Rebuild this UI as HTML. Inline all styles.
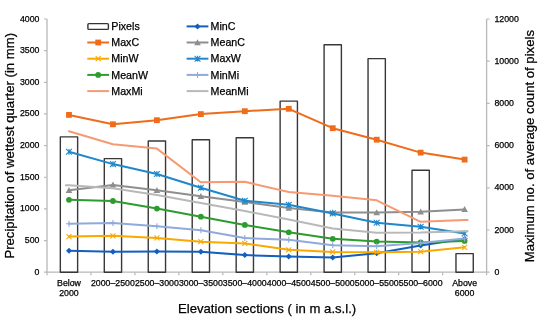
<!DOCTYPE html><html><head><meta charset="utf-8"><style>html,body{margin:0;padding:0;background:#fff;}svg{display:block;}text{font-family:"Liberation Sans",Arial,sans-serif;stroke:#000;stroke-width:0.25px;}</style></head><body>
<svg width="550" height="322" viewBox="0 0 550 322">
<rect width="550" height="322" fill="#fff"/>
<path d="M47.0 19.0V272.2M486.6 19.0V272.2M47.0 272.2H486.6" stroke="#B8B8B8" stroke-width="1.3" fill="none"/>
<path d="M44.0 272.20H47.0M44.0 240.55H47.0M44.0 208.90H47.0M44.0 177.25H47.0M44.0 145.60H47.0M44.0 113.95H47.0M44.0 82.30H47.0M44.0 50.65H47.0M44.0 19.00H47.0M486.6 272.20H489.6M486.6 230.00H489.6M486.6 187.80H489.6M486.6 145.60H489.6M486.6 103.40H489.6M486.6 61.20H489.6M486.6 19.00H489.6M47.00 272.2V275.2M90.96 272.2V275.2M134.92 272.2V275.2M178.88 272.2V275.2M222.84 272.2V275.2M266.80 272.2V275.2M310.76 272.2V275.2M354.72 272.2V275.2M398.68 272.2V275.2M442.64 272.2V275.2M486.60 272.2V275.2" stroke="#B8B8B8" stroke-width="1.2" fill="none"/>
<rect x="60.33" y="136.90" width="17.3" height="135.30" fill="none" stroke="#383838" stroke-width="1.4" stroke-linejoin="round"/>
<rect x="104.29" y="158.60" width="17.3" height="113.60" fill="none" stroke="#383838" stroke-width="1.4" stroke-linejoin="round"/>
<rect x="148.25" y="141.00" width="17.3" height="131.20" fill="none" stroke="#383838" stroke-width="1.4" stroke-linejoin="round"/>
<rect x="192.21" y="139.80" width="17.3" height="132.40" fill="none" stroke="#383838" stroke-width="1.4" stroke-linejoin="round"/>
<rect x="236.17" y="137.80" width="17.3" height="134.40" fill="none" stroke="#383838" stroke-width="1.4" stroke-linejoin="round"/>
<rect x="280.13" y="101.10" width="17.3" height="171.10" fill="none" stroke="#383838" stroke-width="1.4" stroke-linejoin="round"/>
<rect x="324.09" y="44.70" width="17.3" height="227.50" fill="none" stroke="#383838" stroke-width="1.4" stroke-linejoin="round"/>
<rect x="368.05" y="58.60" width="17.3" height="213.60" fill="none" stroke="#383838" stroke-width="1.4" stroke-linejoin="round"/>
<rect x="412.01" y="170.30" width="17.3" height="101.90" fill="none" stroke="#383838" stroke-width="1.4" stroke-linejoin="round"/>
<rect x="455.97" y="253.60" width="17.3" height="18.60" fill="none" stroke="#383838" stroke-width="1.4" stroke-linejoin="round"/>
<polyline points="68.98,250.80 112.94,251.80 156.90,251.40 200.86,251.80 244.82,255.10 288.78,256.50 332.74,257.50 376.70,253.20 420.66,245.50 464.62,238.80" fill="none" stroke="#135FBF" stroke-width="2" stroke-linejoin="round" stroke-linecap="round"/>
<path d="M68.98 247.80L71.98 250.80L68.98 253.80L65.98 250.80Z" fill="#135FBF"/>
<path d="M112.94 248.80L115.94 251.80L112.94 254.80L109.94 251.80Z" fill="#135FBF"/>
<path d="M156.90 248.40L159.90 251.40L156.90 254.40L153.90 251.40Z" fill="#135FBF"/>
<path d="M200.86 248.80L203.86 251.80L200.86 254.80L197.86 251.80Z" fill="#135FBF"/>
<path d="M244.82 252.10L247.82 255.10L244.82 258.10L241.82 255.10Z" fill="#135FBF"/>
<path d="M288.78 253.50L291.78 256.50L288.78 259.50L285.78 256.50Z" fill="#135FBF"/>
<path d="M332.74 254.50L335.74 257.50L332.74 260.50L329.74 257.50Z" fill="#135FBF"/>
<path d="M376.70 250.20L379.70 253.20L376.70 256.20L373.70 253.20Z" fill="#135FBF"/>
<path d="M420.66 242.50L423.66 245.50L420.66 248.50L417.66 245.50Z" fill="#135FBF"/>
<path d="M464.62 235.80L467.62 238.80L464.62 241.80L461.62 238.80Z" fill="#135FBF"/>
<polyline points="68.98,114.90 112.94,124.30 156.90,120.20 200.86,114.10 244.82,111.20 288.78,108.80 332.74,128.20 376.70,139.70 420.66,152.60 464.62,159.60" fill="none" stroke="#EE6C1A" stroke-width="2" stroke-linejoin="round" stroke-linecap="round"/>
<rect x="66.08" y="112.00" width="5.80" height="5.80" fill="#EE6C1A"/>
<rect x="110.04" y="121.40" width="5.80" height="5.80" fill="#EE6C1A"/>
<rect x="154.00" y="117.30" width="5.80" height="5.80" fill="#EE6C1A"/>
<rect x="197.96" y="111.20" width="5.80" height="5.80" fill="#EE6C1A"/>
<rect x="241.92" y="108.30" width="5.80" height="5.80" fill="#EE6C1A"/>
<rect x="285.88" y="105.90" width="5.80" height="5.80" fill="#EE6C1A"/>
<rect x="329.84" y="125.30" width="5.80" height="5.80" fill="#EE6C1A"/>
<rect x="373.80" y="136.80" width="5.80" height="5.80" fill="#EE6C1A"/>
<rect x="417.76" y="149.70" width="5.80" height="5.80" fill="#EE6C1A"/>
<rect x="461.72" y="156.70" width="5.80" height="5.80" fill="#EE6C1A"/>
<polyline points="68.98,190.30 112.94,184.90 156.90,190.30 200.86,196.30 244.82,202.00 288.78,208.00 332.74,212.60 376.70,212.50 420.66,211.80 464.62,209.40" fill="none" stroke="#8E8E8E" stroke-width="2" stroke-linejoin="round" stroke-linecap="round"/>
<path d="M68.98 187.00L72.28 192.94L65.68 192.94Z" fill="#8E8E8E"/>
<path d="M112.94 181.60L116.24 187.54L109.64 187.54Z" fill="#8E8E8E"/>
<path d="M156.90 187.00L160.20 192.94L153.60 192.94Z" fill="#8E8E8E"/>
<path d="M200.86 193.00L204.16 198.94L197.56 198.94Z" fill="#8E8E8E"/>
<path d="M244.82 198.70L248.12 204.64L241.52 204.64Z" fill="#8E8E8E"/>
<path d="M288.78 204.70L292.08 210.64L285.48 210.64Z" fill="#8E8E8E"/>
<path d="M332.74 209.30L336.04 215.24L329.44 215.24Z" fill="#8E8E8E"/>
<path d="M376.70 209.20L380.00 215.14L373.40 215.14Z" fill="#8E8E8E"/>
<path d="M420.66 208.50L423.96 214.44L417.36 214.44Z" fill="#8E8E8E"/>
<path d="M464.62 206.10L467.92 212.04L461.32 212.04Z" fill="#8E8E8E"/>
<polyline points="68.98,236.60 112.94,235.80 156.90,237.90 200.86,241.70 244.82,243.40 288.78,249.80 332.74,251.90 376.70,252.30 420.66,251.70 464.62,247.30" fill="none" stroke="#F9A900" stroke-width="2" stroke-linejoin="round" stroke-linecap="round"/>
<path d="M66.48 234.10L71.48 239.10M71.48 234.10L66.48 239.10" stroke="#F9A900" stroke-width="1.1" fill="none"/>
<path d="M110.44 233.30L115.44 238.30M115.44 233.30L110.44 238.30" stroke="#F9A900" stroke-width="1.1" fill="none"/>
<path d="M154.40 235.40L159.40 240.40M159.40 235.40L154.40 240.40" stroke="#F9A900" stroke-width="1.1" fill="none"/>
<path d="M198.36 239.20L203.36 244.20M203.36 239.20L198.36 244.20" stroke="#F9A900" stroke-width="1.1" fill="none"/>
<path d="M242.32 240.90L247.32 245.90M247.32 240.90L242.32 245.90" stroke="#F9A900" stroke-width="1.1" fill="none"/>
<path d="M286.28 247.30L291.28 252.30M291.28 247.30L286.28 252.30" stroke="#F9A900" stroke-width="1.1" fill="none"/>
<path d="M330.24 249.40L335.24 254.40M335.24 249.40L330.24 254.40" stroke="#F9A900" stroke-width="1.1" fill="none"/>
<path d="M374.20 249.80L379.20 254.80M379.20 249.80L374.20 254.80" stroke="#F9A900" stroke-width="1.1" fill="none"/>
<path d="M418.16 249.20L423.16 254.20M423.16 249.20L418.16 254.20" stroke="#F9A900" stroke-width="1.1" fill="none"/>
<path d="M462.12 244.80L467.12 249.80M467.12 244.80L462.12 249.80" stroke="#F9A900" stroke-width="1.1" fill="none"/>
<polyline points="68.98,151.80 112.94,164.10 156.90,174.00 200.86,187.70 244.82,200.80 288.78,204.70 332.74,213.40 376.70,222.80 420.66,226.70 464.62,233.50" fill="none" stroke="#1F88CC" stroke-width="2" stroke-linejoin="round" stroke-linecap="round"/>
<path d="M66.08 148.90L71.88 154.70M71.88 148.90L66.08 154.70M68.98 148.90L68.98 154.70" stroke="#1F88CC" stroke-width="1.1" fill="none"/>
<path d="M110.04 161.20L115.84 167.00M115.84 161.20L110.04 167.00M112.94 161.20L112.94 167.00" stroke="#1F88CC" stroke-width="1.1" fill="none"/>
<path d="M154.00 171.10L159.80 176.90M159.80 171.10L154.00 176.90M156.90 171.10L156.90 176.90" stroke="#1F88CC" stroke-width="1.1" fill="none"/>
<path d="M197.96 184.80L203.76 190.60M203.76 184.80L197.96 190.60M200.86 184.80L200.86 190.60" stroke="#1F88CC" stroke-width="1.1" fill="none"/>
<path d="M241.92 197.90L247.72 203.70M247.72 197.90L241.92 203.70M244.82 197.90L244.82 203.70" stroke="#1F88CC" stroke-width="1.1" fill="none"/>
<path d="M285.88 201.80L291.68 207.60M291.68 201.80L285.88 207.60M288.78 201.80L288.78 207.60" stroke="#1F88CC" stroke-width="1.1" fill="none"/>
<path d="M329.84 210.50L335.64 216.30M335.64 210.50L329.84 216.30M332.74 210.50L332.74 216.30" stroke="#1F88CC" stroke-width="1.1" fill="none"/>
<path d="M373.80 219.90L379.60 225.70M379.60 219.90L373.80 225.70M376.70 219.90L376.70 225.70" stroke="#1F88CC" stroke-width="1.1" fill="none"/>
<path d="M417.76 223.80L423.56 229.60M423.56 223.80L417.76 229.60M420.66 223.80L420.66 229.60" stroke="#1F88CC" stroke-width="1.1" fill="none"/>
<path d="M461.72 230.60L467.52 236.40M467.52 230.60L461.72 236.40M464.62 230.60L464.62 236.40" stroke="#1F88CC" stroke-width="1.1" fill="none"/>
<polyline points="68.98,199.80 112.94,201.00 156.90,208.60 200.86,216.70 244.82,224.90 288.78,232.30 332.74,238.80 376.70,241.60 420.66,242.40 464.62,240.90" fill="none" stroke="#2E9B2E" stroke-width="2" stroke-linejoin="round" stroke-linecap="round"/>
<circle cx="68.98" cy="199.80" r="2.9" fill="#2E9B2E"/>
<circle cx="112.94" cy="201.00" r="2.9" fill="#2E9B2E"/>
<circle cx="156.90" cy="208.60" r="2.9" fill="#2E9B2E"/>
<circle cx="200.86" cy="216.70" r="2.9" fill="#2E9B2E"/>
<circle cx="244.82" cy="224.90" r="2.9" fill="#2E9B2E"/>
<circle cx="288.78" cy="232.30" r="2.9" fill="#2E9B2E"/>
<circle cx="332.74" cy="238.80" r="2.9" fill="#2E9B2E"/>
<circle cx="376.70" cy="241.60" r="2.9" fill="#2E9B2E"/>
<circle cx="420.66" cy="242.40" r="2.9" fill="#2E9B2E"/>
<circle cx="464.62" cy="240.90" r="2.9" fill="#2E9B2E"/>
<polyline points="68.98,223.70 112.94,222.90 156.90,226.20 200.86,230.20 244.82,238.00 288.78,239.80 332.74,245.30 376.70,246.30 420.66,243.00 464.62,238.50" fill="none" stroke="#8FAADC" stroke-width="2" stroke-linejoin="round" stroke-linecap="round"/>
<path d="M65.98 223.70L71.98 223.70M68.98 220.70L68.98 226.70" stroke="#8FAADC" stroke-width="1.1" fill="none"/>
<path d="M109.94 222.90L115.94 222.90M112.94 219.90L112.94 225.90" stroke="#8FAADC" stroke-width="1.1" fill="none"/>
<path d="M153.90 226.20L159.90 226.20M156.90 223.20L156.90 229.20" stroke="#8FAADC" stroke-width="1.1" fill="none"/>
<path d="M197.86 230.20L203.86 230.20M200.86 227.20L200.86 233.20" stroke="#8FAADC" stroke-width="1.1" fill="none"/>
<path d="M241.82 238.00L247.82 238.00M244.82 235.00L244.82 241.00" stroke="#8FAADC" stroke-width="1.1" fill="none"/>
<path d="M285.78 239.80L291.78 239.80M288.78 236.80L288.78 242.80" stroke="#8FAADC" stroke-width="1.1" fill="none"/>
<path d="M329.74 245.30L335.74 245.30M332.74 242.30L332.74 248.30" stroke="#8FAADC" stroke-width="1.1" fill="none"/>
<path d="M373.70 246.30L379.70 246.30M376.70 243.30L376.70 249.30" stroke="#8FAADC" stroke-width="1.1" fill="none"/>
<path d="M417.66 243.00L423.66 243.00M420.66 240.00L420.66 246.00" stroke="#8FAADC" stroke-width="1.1" fill="none"/>
<path d="M461.62 238.50L467.62 238.50M464.62 235.50L464.62 241.50" stroke="#8FAADC" stroke-width="1.1" fill="none"/>
<polyline points="68.98,131.20 112.94,144.20 156.90,148.60 200.86,182.30 244.82,181.80 288.78,192.00 332.74,195.70 376.70,200.30 420.66,221.80 464.62,220.00 467.62,220.00" fill="none" stroke="#F79A72" stroke-width="2" stroke-linejoin="round" stroke-linecap="round"/>
<polyline points="65.78,185.20 68.98,185.20 112.94,188.30 156.90,195.10 200.86,203.10 244.82,211.10 288.78,219.40 332.74,228.40 376.70,232.70 420.66,232.60 464.62,231.30 467.62,231.30" fill="none" stroke="#B8B8B8" stroke-width="2" stroke-linejoin="round" stroke-linecap="round"/>
<g font-size="8.78" fill="#000">
<text x="39.5" y="274.70" text-anchor="end">0</text>
<text x="39.5" y="243.05" text-anchor="end">500</text>
<text x="39.5" y="211.40" text-anchor="end">1000</text>
<text x="39.5" y="179.75" text-anchor="end">1500</text>
<text x="39.5" y="148.10" text-anchor="end">2000</text>
<text x="39.5" y="116.45" text-anchor="end">2500</text>
<text x="39.5" y="84.80" text-anchor="end">3000</text>
<text x="39.5" y="53.15" text-anchor="end">3500</text>
<text x="39.5" y="21.50" text-anchor="end">4000</text>
<text x="494.4" y="274.70">0</text>
<text x="494.4" y="232.50">2000</text>
<text x="494.4" y="190.30">4000</text>
<text x="494.4" y="148.10">6000</text>
<text x="494.4" y="105.90">8000</text>
<text x="494.4" y="63.70">10000</text>
<text x="494.4" y="21.50">12000</text>
<text x="68.98" y="285.8" text-anchor="middle">Below</text>
<text x="68.98" y="295.9" text-anchor="middle">2000</text>
<text x="112.94" y="285.8" text-anchor="middle">2000–2500</text>
<text x="156.90" y="285.8" text-anchor="middle">2500–3000</text>
<text x="200.86" y="285.8" text-anchor="middle">3000–3500</text>
<text x="244.82" y="285.8" text-anchor="middle">3500–4000</text>
<text x="288.78" y="285.8" text-anchor="middle">4000–4500</text>
<text x="332.74" y="285.8" text-anchor="middle">4500–5000</text>
<text x="376.70" y="285.8" text-anchor="middle">5000–5500</text>
<text x="420.66" y="285.8" text-anchor="middle">5500–6000</text>
<text x="464.62" y="285.8" text-anchor="middle">Above</text>
<text x="464.62" y="295.9" text-anchor="middle">6000</text>
</g>
<g font-size="13.15" fill="#000">
<text x="178" y="313.4" >Elevation sections ( in m a.s.l.)</text>
<text transform="translate(14.2 258.6) rotate(-90)">Precipitation of wettest quarter (in mm)</text>
<text transform="translate(534 262.3) rotate(-90)">Maximum no. of average count of pixels</text>
</g>
<g font-size="10.67" fill="#000">
<rect x="87.90" y="23.60" width="20.5" height="5.8" rx="1" fill="#fff" stroke="#333" stroke-width="1.4"/>
<text x="111.30" y="30.00">Pixels</text>
<path d="M186.60 26.40H208.40" stroke="#135FBF" stroke-width="2"/>
<path d="M197.50 23.40L200.50 26.40L197.50 29.40L194.50 26.40Z" fill="#135FBF"/>
<text x="210.60" y="30.00">MinC</text>
<path d="M87.30 42.50H109.10" stroke="#EE6C1A" stroke-width="2"/>
<rect x="95.30" y="39.60" width="5.80" height="5.80" fill="#EE6C1A"/>
<text x="111.30" y="46.10">MaxC</text>
<path d="M186.60 42.50H208.40" stroke="#8E8E8E" stroke-width="2"/>
<path d="M197.50 39.20L200.80 45.14L194.20 45.14Z" fill="#8E8E8E"/>
<text x="210.60" y="46.10">MeanC</text>
<path d="M87.30 58.70H109.10" stroke="#F9A900" stroke-width="2"/>
<path d="M95.70 56.20L100.70 61.20M100.70 56.20L95.70 61.20" stroke="#F9A900" stroke-width="1.1" fill="none"/>
<text x="111.30" y="62.30">MinW</text>
<path d="M186.60 58.70H208.40" stroke="#1F88CC" stroke-width="2"/>
<path d="M194.60 55.80L200.40 61.60M200.40 55.80L194.60 61.60M197.50 55.80L197.50 61.60" stroke="#1F88CC" stroke-width="1.1" fill="none"/>
<text x="210.60" y="62.30">MaxW</text>
<path d="M87.30 74.90H109.10" stroke="#2E9B2E" stroke-width="2"/>
<circle cx="98.20" cy="74.90" r="2.9" fill="#2E9B2E"/>
<text x="111.30" y="78.50">MeanW</text>
<path d="M186.60 74.90H208.40" stroke="#8FAADC" stroke-width="2"/>
<path d="M194.50 74.90L200.50 74.90M197.50 71.90L197.50 77.90" stroke="#8FAADC" stroke-width="1.1" fill="none"/>
<text x="210.60" y="78.50">MinMi</text>
<path d="M87.30 91.10H109.10" stroke="#F79A72" stroke-width="2"/>
<text x="111.30" y="94.70">MaxMi</text>
<path d="M186.60 91.10H208.40" stroke="#B8B8B8" stroke-width="2"/>
<text x="210.60" y="94.70">MeanMi</text>
</g>
</svg></body></html>
